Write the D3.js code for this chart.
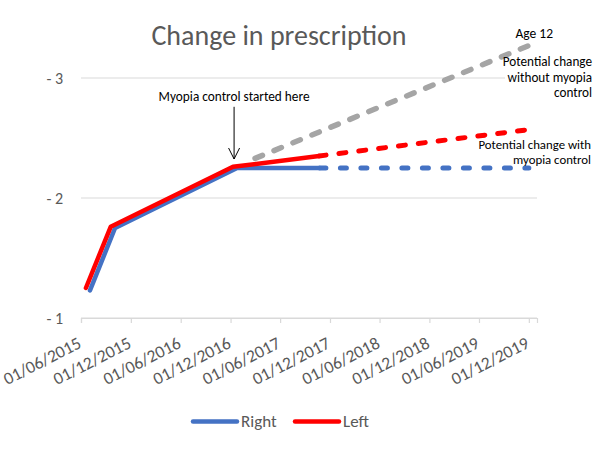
<!DOCTYPE html>
<html><head><meta charset="utf-8">
<script src="https://cdn.jsdelivr.net/npm/d3@7"></script>
<style>html,body{margin:0;padding:0;background:#fff;} svg{display:block;font-family:Carlito, Calibri, Lato, sans-serif;}</style>
</head><body>
<svg id="c" width="596" height="452"></svg>
<script>
// ---- data ----
const tickLabels = ["01/06/2015","01/12/2015","01/06/2016","01/12/2016","01/06/2017","01/12/2017","01/06/2018","01/12/2018","01/06/2019","01/12/2019"];
const yTicks = [-1, -2, -3];
const rightDates  = ["04/07/2015","04/10/2015","25/12/2016","25/10/2017"];
const rightValues = [-1.23, -1.75, -2.25, -2.25];
const rightProjDates  = ["25/10/2017","01/12/2019"];
const rightProjValues = [-2.25, -2.25];
const leftDates  = ["19/06/2015","18/09/2015","10/12/2016","22/10/2017"];
const leftValues = [-1.25, -1.76, -2.26, -2.35];
const leftProjDates  = ["22/10/2017","01/12/2019"];
const leftProjValues = [-2.35, -2.57];
const noControlDates  = ["01/03/2017","01/12/2019"];
const noControlValues = [-2.33, -3.27];
const seriesNames = ["Right","Left"];
const controlStartDate = "14/12/2016";
const controlArrowValues = [-2.76, -2.325];

// ---- setup ----
const parse = d3.timeParse("%d/%m/%Y");
const svg = d3.select("#c");
const textCol = "#595959", gridCol = "#d9d9d9";
const blue = "#4472C4", red = "#FF0000", grey = "#A5A5A5";

const x = d3.scaleTime().domain([parse("01/06/2015"), parse("31/12/2019")]).range([81, 537]);
const y = d3.scaleLinear().domain([-1, -3]).range([318, 78]);

// title
svg.append("text").attr("x", 279).attr("y", 45).attr("text-anchor", "middle")
  .attr("fill", textCol).style("font-size", "28px").style("font-weight", 300)
  .text("Change in prescription");

// gridlines
svg.append("g").selectAll("line").data(yTicks).join("line")
  .attr("x1", x.range()[0]).attr("x2", x.range()[1])
  .attr("y1", d => y(d)).attr("y2", d => y(d))
  .attr("stroke", gridCol).attr("stroke-width", 1.2);

// y labels
svg.append("g").selectAll("text").data(yTicks).join("text")
  .attr("x", 63).attr("y", d => y(d)).attr("dy", "0.35em").attr("text-anchor", "end")
  .attr("fill", textCol).style("font-size", "16px")
  .text(d => "- " + Math.abs(d));

// x axis
const tickDates = tickLabels.map(parse);
const xAxis = d3.axisBottom(x).tickValues(tickDates).tickSize(5).tickFormat((d, i) => tickLabels[i]);
const gx = svg.append("g").attr("transform", `translate(0,${y(-1)})`).call(xAxis);
gx.select(".domain").attr("stroke", gridCol).attr("stroke-width", 1.2);
gx.selectAll(".tick line").attr("stroke", gridCol).attr("stroke-width", 1.2);
gx.selectAll(".tick text")
  .attr("fill", textCol).style("font-size", "17.5px").style("font-family", "Carlito, Calibri, Lato, sans-serif")
  .attr("text-anchor", "end").attr("dy", 0).attr("y", 0)
  .attr("transform", "translate(1,29) rotate(-27)");

// white box behind annotation (text box)
svg.append("rect").attr("x", 505).attr("y", 56).attr("width", 91).attr("height", 44).attr("fill", "#fff");

const line = d3.line().x(d => x(d[0])).y(d => y(d[1]));
const pts = (ds, vs) => ds.map((d, i) => [parse(d), vs[i]]);

function draw(data, color, w, dash) {
  const p = svg.append("path").datum(data).attr("d", line).attr("fill", "none")
    .attr("stroke", color).attr("stroke-width", w)
    .attr("stroke-linejoin", "round").attr("stroke-linecap", "round");
  if (dash) p.attr("stroke-dasharray", dash);
}
draw(pts(noControlDates, noControlValues), grey, 5.5, "8,12.5");
draw(pts(rightProjDates, rightProjValues), blue, 5, "6,14.5");
draw(pts(leftProjDates, leftProjValues), red, 5, "7,13");
draw(pts(rightDates, rightValues), blue, 4.5);
draw(pts(leftDates, leftValues), red, 4.5);

// annotations
const ax = x(parse(controlStartDate));
svg.append("line").attr("x1", ax).attr("x2", ax).attr("y1", y(controlArrowValues[0])).attr("y2", y(controlArrowValues[1]))
  .attr("stroke", "#000").attr("stroke-width", 1);
const tip = y(controlArrowValues[1]);
svg.append("polyline").attr("points", `${ax-5.5},${tip-11} ${ax},${tip} ${ax+5.5},${tip-11}`)
  .attr("fill", "none").attr("stroke", "#000").attr("stroke-width", 1);
svg.append("text").attr("x", ax).attr("y", 101).attr("text-anchor", "middle").attr("fill", "#000")
  .style("font-size", "13.3px").text("Myopia control started here");

function multi(lines, xr, y0, lh, fs) {
  lines.forEach((s, i) => svg.append("text").attr("text-anchor", "end").attr("fill", "#000")
    .style("font-size", fs + "px").attr("x", xr).attr("y", y0 + i * lh).text(s));
}
multi(["Age 12"], 553, 38, 15, 13.5);
multi(["Potential change", "without myopia", "control"], 592, 66, 15.5, 13.2);
multi(["Potential change with", "myopia control"], 591, 148.5, 15, 12.8);

// legend
const legX = [193, 295];
const legCol = [blue, red];
seriesNames.forEach((n, i) => {
  svg.append("line").attr("x1", legX[i]).attr("x2", legX[i] + 44).attr("y1", 421.5).attr("y2", 421.5)
    .attr("stroke", legCol[i]).attr("stroke-width", 4.5).attr("stroke-linecap", "round");
  svg.append("text").attr("x", legX[i] + 48).attr("y", 427).attr("fill", textCol)
    .style("font-size", "17px").text(n);
});
</script>
</body></html>
